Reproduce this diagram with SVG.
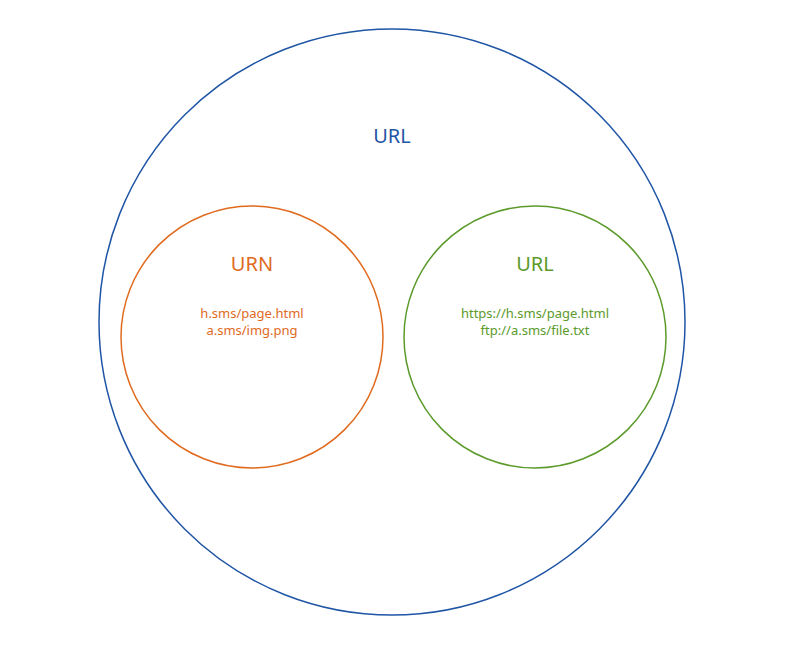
<svg xmlns="http://www.w3.org/2000/svg" width="800" height="649" viewBox="0 0 800 649">
<style>
text{font-family:"Noto Sans","Open Sans",sans-serif;text-anchor:middle}
.t{font-size:20px}.s{font-size:13px}
</style>
<rect width="800" height="649" fill="#fff"/>
<g id="outer"><circle cx="392" cy="322" r="293" fill="none" stroke="#1f55a5" stroke-width="1.5"/>
<text x="392" y="143" class="t" fill="#1f55a5">URL</text></g>
<g id="urn"><circle cx="252" cy="337" r="131" fill="none" stroke="#e06a1e" stroke-width="1.5"/>
<text x="252" y="271" class="t" fill="#e06a1e">URN</text>
<text x="252" y="318" class="s" fill="#e06a1e">h.sms/page.html</text>
<text x="252" y="335" class="s" fill="#e06a1e">a.sms/img.png</text></g>
<g id="url"><circle cx="535" cy="337" r="131" fill="none" stroke="#5b9a2b" stroke-width="1.5"/>
<text x="535" y="271" class="t" fill="#5b9a2b">URL</text>
<text x="535" y="318" class="s" fill="#5b9a2b">https://h.sms/page.html</text>
<text x="535" y="335" class="s" fill="#5b9a2b">ftp://a.sms/file.txt</text></g>
<g id="connectors"/>
</svg>
